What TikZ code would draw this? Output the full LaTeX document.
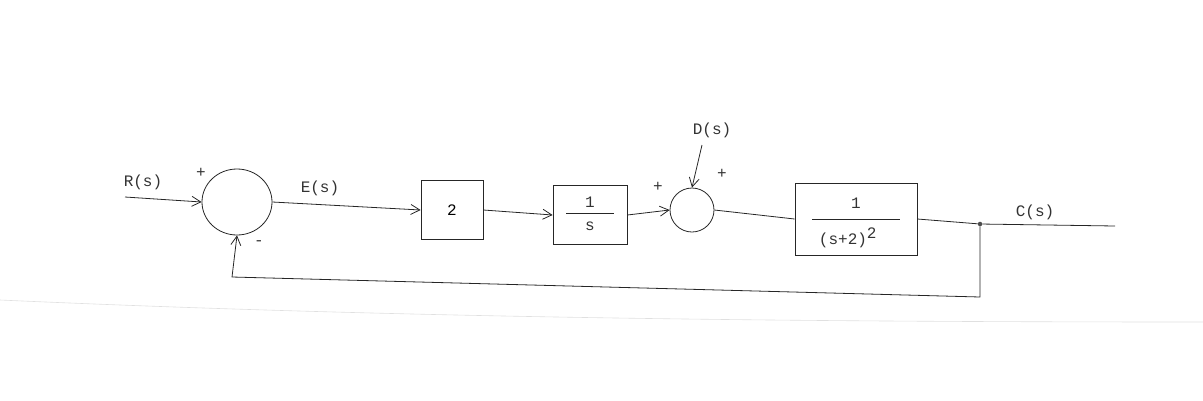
\documentclass[tikz,border=0pt]{standalone}
\usepackage{fontspec}
\setmonofont{Liberation Mono}
\usetikzlibrary{arrows.meta,shapes.geometric}
\begin{document}
\begin{tikzpicture}[x=1pt,y=-1pt,font=\ttfamily\fontsize{16}{18}\selectfont,
  wire/.style={draw=black!85,line width=0.8pt},
  arr/.style={wire,-{Straight Barb[length=9pt,width=10pt]}},
  blk/.style={draw=black!85,line width=0.8pt,inner sep=0pt},
  lbl/.style={inner sep=1pt,text=black!80}]
\useasboundingbox (0,0) rectangle (1203,400);
\draw[black!12,line width=0.6pt] (0,300) .. controls (400,318) and (800,322) .. (1203,322);
\node[blk,ellipse,minimum width=70,minimum height=66] (s1) at (237,202) {};
\node[blk,minimum width=62,minimum height=59] (b2) at (452,210) {2};
\node[blk,minimum width=74,minimum height=59] (b3) at (590,215) {};
\node[lbl] (n3) at (590,202) {1};
\draw[black!85,line width=0.7pt] (566,213) -- (614,213);
\node[lbl] (d3) at (590,226) {s};
\node[blk,ellipse,minimum width=44,minimum height=44] (s2) at (692,210) {};
\node[blk,minimum width=122,minimum height=72] (b4) at (856,219) {};
\node[lbl] at (856,203) {1};
\draw[black!85,line width=0.7pt] (812,219) -- (900,219);
\node[lbl] (den) at (848,238) {(s+2)$^{\texttt 2}$};
\coordinate (rin) at (125,197);
\coordinate (dtop) at (702,145);
\coordinate (out) at (1115,226);
\node[fill=black!70,circle,inner sep=1.6pt] (dot) at (980,224) {};
\coordinate (fb1) at (980,297);
\node[lbl] at (143,182) {R(s)};
\node[lbl] at (320,188) {E(s)};
\node[lbl] at (712,130) {D(s)};
\node[lbl] at (1035,212) {C(s)};
\node[lbl] at (201,173) {+};
\node[lbl] at (259,243) {-};
\node[lbl] at (658,187) {+};
\node[lbl] at (722,174) {+};
\draw[arr] (rin) -- (s1.west);
\draw[arr] (s1.east) -- (b2.west);
\draw[arr] (b2.east) -- (b3.west);
\draw[arr] (b3.east) -- (s2.west);
\draw[arr] (dtop) -- (s2.north);
\draw[wire] (s2.east) -- (b4.west);
\draw[wire] (b4.east) -- (dot) -- (out);
\draw[arr] (dot) -- (fb1) -- (232,277) -- (s1.south);
\end{tikzpicture}
\end{document}
